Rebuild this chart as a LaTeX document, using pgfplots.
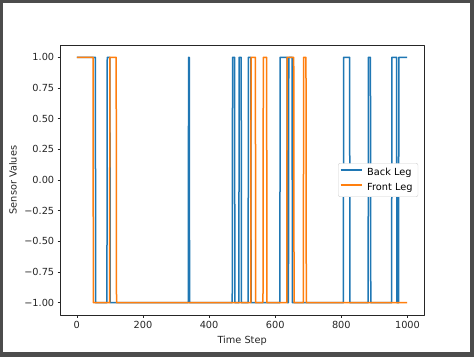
\documentclass[border=0pt]{standalone}
\usepackage{fontspec}
\setmainfont{DejaVu Sans}
\usepackage{pgfplots}
\pgfplotsset{compat=1.18}
\definecolor{c0}{HTML}{1F77B4}
\definecolor{c1}{HTML}{FF7F0E}
\begin{document}
\begin{tikzpicture}[x=1bp,y=1bp]
\fill[black!70] (0,0) rectangle (474,357);
\fill[white] (3,5) rectangle (470,354);
\begin{axis}[
  at={(60.3bp,42bp)}, anchor=south west,
  width=363.7bp, height=270bp, scale only axis,
  xmin=-50, xmax=1050, ymin=-1.1, ymax=1.1,
  font=\fontsize{9.8}{11.5}\selectfont,
  axis line style={black!85, line width=0.6bp},
  tick style={black!85, line width=0.6bp},
  major tick length=2.6bp, tick align=outside,
  xtick pos=lower, ytick pos=left,
  xtick={0,200,400,600,800,1000},
  xticklabels={0,200,400,600,800,1000},
  ytick={-1,-0.75,-0.5,-0.25,0,0.25,0.5,0.75,1},
  yticklabels={−1.00,−0.75,−0.50,−0.25,0.00,0.25,0.50,0.75,1.00},
  xticklabel style={text=black!85},
  yticklabel style={text=black!85},
  xlabel={Time Step}, ylabel={Sensor Values},
  xlabel style={at={(axis description cs:0.5,-0.1048)}, anchor=base, text=black!85},
  ylabel style={at={(axis description cs:-0.1199,0.5)}, anchor=base, text=black!85},
  legend style={at={(rel axis cs:0.984,0.5)}, anchor=east, draw=black!18,
    rounded corners=2bp, fill=white,
    inner xsep=1.5bp, inner ysep=2bp, row sep=0.5bp,
    nodes={text height=7.5bp, text depth=2bp, inner ysep=2.5bp, inner xsep=4bp}},
  legend cell align=left,
  legend image code/.code={\draw[#1, line width=2bp] (0bp,2.75bp) -- (21.5bp,2.75bp);},
  line join=round,
]
\addplot[c0, line width=1.5bp] coordinates {
(0,1)(56,1)(57,-1)(91,-1)(92,1)(100,1)(101,-1)(337,-1)(338,1)(340,1)(341,-1)
(470,-1)(471,1)(477,1)(478,-1)(490,-1)(491,1)(497,1)(498,-1)(518,-1)(519,1)(526,1)(527,-1)
(614,-1)(615,1)(636,1)(637,-1)(640,-1)(641,1)(651,1)(652,-1)(806,-1)(807,1)(825,1)(826,-1)
(881,-1)(882,1)(888,1)(889,-1)(952,-1)(953,1)(967,1)(968,-1)(973,-1)(974,1)(999,1)
};
\addlegendentry{Back Leg}
\addplot[c1, line width=1.5bp] coordinates {
(0,1)(49,1)(50,-1)(99,-1)(100,1)(119,1)(120,-1)(526,-1)(527,1)(540,1)(541,-1)
(563,-1)(564,1)(574,1)(575,-1)(635,-1)(636,1)(656,1)(657,-1)(685,-1)(686,1)(693,1)(694,-1)(999,-1)
};
\addlegendentry{Front Leg}
\end{axis}
\end{tikzpicture}
\end{document}
